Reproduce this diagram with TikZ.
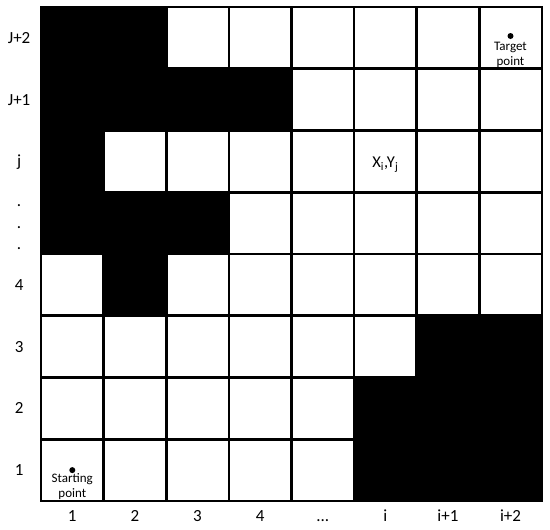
\documentclass[tikz,border=0pt]{standalone}
\usepackage{fontspec}
\setmainfont{Carlito}
\begin{document}
\begin{tikzpicture}[x=1pt,y=1pt,
  blk/.style={fill=black},
  gridline/.style={line width=2.6pt, line cap=rect},
  lbl/.style={anchor=base, inner sep=0pt, font=\fontsize{17}{20}\selectfont},
  small/.style={anchor=base, inner sep=0pt, font=\fontsize{13}{15}\selectfont},
  pt/.style={circle, fill=black, inner sep=0pt, minimum size=6pt}]
\useasboundingbox (0,0) rectangle (550,530);
\begin{scope}[shift={(41,29)}, x=62.6pt, y=61.75pt]
  % black cells
  \fill[blk] (0,7) rectangle (2,8);
  \fill[blk] (0,6) rectangle (4,7);
  \fill[blk] (0,5) rectangle (1,6);
  \fill[blk] (0,4) rectangle (3,5);
  \fill[blk] (1,3) rectangle (2,4);
  \fill[blk] (6,2) rectangle (8,3);
  \fill[blk] (5,0) rectangle (8,2);
  % grid
  \foreach \k in {0,...,8} {
    \draw[gridline] (\k,0) -- (\k,8);
    \draw[gridline] (0,\k) -- (8,\k);
  }
  % column labels
  \foreach \c/\t in {1/1,2/2,3/3,4/4,6/i,7/i+1,8/i+2}
    \node[lbl] (col\c) at (\c-0.5,-0.325) {\t};
  \node[lbl] (col5) at (4.5,-0.325) {...};
  % row labels
  \foreach \r/\t in {1/1,2/2,3/3,4/4,6/j,7/J+1,8/J+2}
    \node[lbl] (row\r) at (-0.35,\r-0.5-0.09) {\t};
  \node[lbl] (dotA) at (-0.35,4.5+0.27) {.};
  \node[lbl] (dotB) at (-0.35,4.5-0.08) {.};
  \node[lbl] (dotC) at (-0.35,4.5-0.425) {.};
  % cell text
  \node[lbl, font=\fontsize{16.5}{19}\selectfont] (xy) at (5.5,5.5-0.1) {X\textsubscript{i},Y\textsubscript{j}};
  % target
  \node[pt] (target) at (7.5,7.5+0.03) {};
  \node[small] (tgt1) at (7.5,7.5-0.21) {Target};
  \node[small] (tgt2) at (7.5,7.5-0.445) {point};
  % start
  \node[pt] (start) at (0.5,0.5) {};
  \node[small] (st1) at (0.5,0.5-0.2) {Starting};
  \node[small] (st2) at (0.5,0.5-0.445) {point};
\end{scope}
\end{tikzpicture}
\end{document}
